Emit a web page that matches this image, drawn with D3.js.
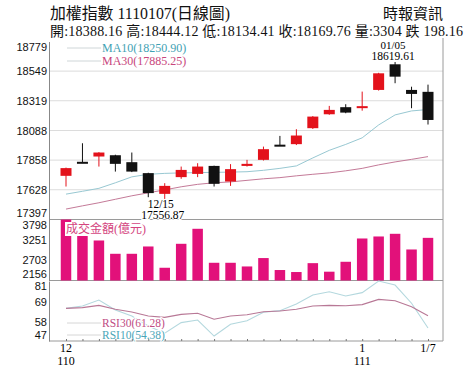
<!DOCTYPE html>
<html>
<head>
<meta charset="utf-8">
<script src="https://cdn.jsdelivr.net/npm/d3@7"></script>
<style>
  body { margin: 0; background: #fff; }
  svg { display: block; font-family: "Liberation Serif", "Noto Sans CJK TC", serif; }
  .tick text { font-size: 11px; fill: #111; }
</style>
</head>
<body>
<div id="chart"></div>
<script>
// ===== data =====
const dates = ["12/07","12/08","12/09","12/10","12/13","12/14","12/15","12/16","12/17","12/20","12/21","12/22",
  "12/23","12/24","12/27","12/28","12/29","12/30","01/03","01/04","01/05","01/06","01/07"];
const openVals  = [17736,17845,17886,17896,17842,17757,17596,17726,17751,17813,17692,17813,17860,17978,17982,18106,18214,18269,18268,18403,18602,18403,18388.16];
const highVals  = [17800,17989,17920,17900,17917,17760,17679,17808,17834,17815,17827,17860,17963,18046,18098,18200,18279,18292,18390,18536,18619.61,18428,18444.12];
const lowVals   = [17653,17835,17808,17769,17765,17570,17556.87,17713,17726,17653,17658,17808,17855,17972,17975,18100,18210,18222,18242,18398,18455,18261,18134.41];
const closeVals = [17796,17840,17917,17829,17769,17602,17658,17782,17808,17674,17788,17829,17943,17974,18049,18196,18248,18227,18277,18532,18506,18372,18169.76];
const ma10 = [17594,17616,17639,17682,17728,17748,17755,17759,17761,17763,17765,17768,17779,17794,17813,17875,17934,17980,18031,18131,18209,18240,18250.90];
const ma30 = [17478,17503,17527,17554,17581,17604,17627,17651,17670,17682,17689,17701,17713,17722,17736,17748,17759,17775,17794,17821,17844,17864,17885.25];
const volume = [3798,3413,3233,2875,2875,3072,2499,3144,3548,2633,2633,2534,2760,2438,2384,2623,2393,2660,3287,3341,3413,2991,3304];
const rsi10 = [65.5,66.8,70.2,64.6,61.2,55.5,51.4,57.4,58.9,49.8,56.5,58.5,63.3,64.2,68.0,73.1,74.9,72.5,74.4,81.0,78.7,68.4,54.38];
const rsi30 = [65.5,65.9,67.2,65.0,63.4,61.2,60.4,62.1,62.7,59.3,61.2,61.9,63.6,64.0,65.0,66.8,67.2,67.0,67.6,70.6,69.8,66.4,61.28];

const priceTicks = [18779,18549,18319,18088,17858,17628,17397];
const volTicks = [3798,3251,2703,2156];
const rsiTicks = [81,69,58,47];
const monthLabels = [{i: 0, m: "12", y: "110"}, {i: 18, m: "1", y: "111"}, {i: 22, m: "1/7", y: ""}];

const title = "加權指數 1110107(日線圖)";
const source = "時報資訊";
const summary = "開:18388.16 高:18444.12 低:18134.41 收:18169.76 量:3304 跌 198.16";

// ===== layout =====
const width = 474, height = 380;
const left = 49, right = 443;
const priceTop = 41.5, priceBot = 219.5;
const volTop = 219.5, volBot = 280.5;
const rsiTop = 281, rsiBot = 341;

const RED = "#e3121b", BLACK = "#111", MAG = "#e2117a";
const MA10_C = "#98c8d2", MA30_C = "#c47a98";

const svg = d3.select("#chart").append("svg")
  .attr("width", width).attr("height", height);

const idx = d3.range(dates.length);
const x = d3.scalePoint().domain(idx).range([66, 428]);
const yP = d3.scaleLinear().domain([17397, 18779]).range([priceBot, priceTop]);
const yV = d3.scaleLinear().domain([2156, 3798]).range([volBot, volTop]).clamp(true);
const yR = d3.scaleLinear().domain([47, 81]).range([rsiBot, rsiTop]);

// ===== header =====
svg.append("text").attr("x", 50).attr("y", 19).attr("font-size", 16).attr("fill", "#111")
  .attr("textLength", 180).attr("lengthAdjust", "spacingAndGlyphs").text(title);
svg.append("text").attr("x", 443).attr("y", 19).attr("text-anchor", "end").attr("font-size", 15).attr("fill", "#111").text(source);
svg.append("text").attr("x", 50).attr("y", 36).attr("font-size", 14).attr("fill", "#111")
  .attr("textLength", 413).attr("lengthAdjust", "spacing").text(summary);

// ===== grid + frame =====
svg.append("g").selectAll("line")
  .data(priceTicks.slice(1, -1))
  .join("line")
  .attr("x1", left).attr("x2", right)
  .attr("y1", d => yP(d)).attr("y2", d => yP(d))
  .attr("stroke", "#dcdcdc");

[volTop, volBot, rsiBot].forEach(y => {
  svg.append("line").attr("x1", left).attr("x2", right).attr("y1", y).attr("y2", y).attr("stroke", "#9a9a9a");
});
svg.append("line").attr("x1", right).attr("x2", right).attr("y1", 38).attr("y2", rsiBot).attr("stroke", "#9a9a9a");

// ===== left axes =====
function leftAxis(scale, ticks, nudgeTop, nudgeBot) {
  const g = svg.append("g").attr("transform", `translate(${left},0)`)
    .call(d3.axisLeft(scale).tickValues(ticks).tickSize(0).tickPadding(2).tickFormat(d3.format("d")));
  g.select(".domain").attr("stroke", "#888");
  g.selectAll(".tick text")
    .attr("dy", (d, i) => i === 0 ? nudgeTop : (i === ticks.length - 1 ? nudgeBot : "0.32em"));
  return g;
}
leftAxis(yP, priceTicks, "0.85em", "-0.25em");
leftAxis(yV, volTicks, "0.85em", "-0.3em");
leftAxis(yR, rsiTicks, "0.75em", "-0.2em");

// ===== moving averages =====
const lineP = d3.line().x((d, i) => x(i)).y(d => yP(d));
svg.append("path").datum(ma30).attr("d", lineP).attr("fill", "none").attr("stroke", MA30_C).attr("stroke-width", 1);
svg.append("path").datum(ma10).attr("d", lineP).attr("fill", "none").attr("stroke", MA10_C).attr("stroke-width", 1);

// ===== candles =====
const bw = 11;
const candles = svg.append("g").selectAll("g")
  .data(idx)
  .join("g");
candles.append("line")
  .attr("x1", i => x(i)).attr("x2", i => x(i))
  .attr("y1", i => yP(highVals[i])).attr("y2", i => yP(lowVals[i]))
  .attr("stroke", i => closeVals[i] >= openVals[i] ? RED : BLACK)
  .attr("stroke-width", 1);
candles.append("rect")
  .attr("x", i => x(i) - bw / 2)
  .attr("width", bw)
  .attr("y", i => Math.min(yP(openVals[i]), yP(closeVals[i])))
  .attr("height", i => Math.max(2, Math.abs(yP(openVals[i]) - yP(closeVals[i]))))
  .attr("fill", i => closeVals[i] >= openVals[i] ? RED : BLACK);

// high / low callouts
const hi = d3.maxIndex(highVals), lo = d3.minIndex(lowVals);
svg.append("text").attr("x", x(hi) - 2).attr("y", yP(highVals[hi]) - 13.5).attr("text-anchor", "middle")
  .attr("font-size", 11).text(dates[hi]);
svg.append("text").attr("x", x(hi) - 2).attr("y", yP(highVals[hi]) - 2.5).attr("text-anchor", "middle")
  .attr("font-size", 11.5).text(highVals[hi].toFixed(2));
svg.append("text").attr("x", x(lo) - 4).attr("y", yP(lowVals[lo]) + 9).attr("text-anchor", "middle")
  .attr("font-size", 11.5).text(dates[lo]);
svg.append("text").attr("x", x(lo) - 2).attr("y", yP(lowVals[lo]) + 20).attr("text-anchor", "middle")
  .attr("font-size", 11.5).attr("stroke", "#fff").attr("stroke-width", 2).attr("paint-order", "stroke")
  .text(lowVals[lo].toFixed(2));

// MA legend
const maLegend = [{t: "MA10(18250.90)", c: "#3fa2b4", y: 48}, {t: "MA30(17885.25)", c: "#c8467c", y: 61}];
maLegend.forEach(d => {
  svg.append("line").attr("x1", 67).attr("x2", 101).attr("y1", d.y).attr("y2", d.y).attr("stroke", "#cfd6d8");
  svg.append("text").attr("x", 102).attr("y", d.y + 4).attr("font-size", 12).attr("fill", d.c).text(d.t);
});

// ===== volume bars =====
const vbw = 10.5;
svg.append("g").selectAll("rect")
  .data(volume)
  .join("rect")
  .attr("x", (d, i) => x(i) - vbw / 2)
  .attr("width", vbw)
  .attr("y", d => yV(d))
  .attr("height", d => volBot - yV(d))
  .attr("fill", MAG);

svg.append("rect").attr("x", 65).attr("y", 222).attr("width", 83).attr("height", 14).attr("fill", "#fff");
svg.append("text").attr("x", 66).attr("y", 233).attr("font-size", 12).attr("fill", "#d4447e").text("成交金額(億元)");

// ===== RSI =====
const lineR = d3.line().x((d, i) => x(i)).y(d => yR(d));
svg.append("path").datum(rsi10).attr("d", lineR).attr("fill", "none").attr("stroke", "#b4d8de").attr("stroke-width", 1.1);
svg.append("path").datum(rsi30).attr("d", lineR).attr("fill", "none").attr("stroke", "#b87896").attr("stroke-width", 1.1);

const rsiLegend = [{t: "RSI30(61.28)", c: "#c04c84", y: 323}, {t: "RSI10(54.38)", c: "#4aa6b8", y: 335}];
rsiLegend.forEach(d => {
  svg.append("line").attr("x1", 67).attr("x2", 101).attr("y1", d.y).attr("y2", d.y).attr("stroke", "#d6d6d6");
  svg.append("text").attr("x", 102).attr("y", d.y + 4).attr("font-size", 11.5).attr("fill", d.c)
    .attr("stroke", "#fff").attr("stroke-width", 2).attr("paint-order", "stroke").text(d.t);
});

// ===== bottom axis =====
const xAxis = svg.append("g").attr("transform", `translate(0,${rsiBot})`)
  .call(d3.axisBottom(x).tickSizeInner(-2).tickSizeOuter(0).tickFormat(""));
xAxis.select(".domain").remove();
xAxis.selectAll(".tick line").attr("stroke", "#777");

monthLabels.forEach(d => {
  svg.append("text").attr("x", x(d.i)).attr("y", 352).attr("text-anchor", "middle").attr("font-size", 12).text(d.m);
  if (d.y) svg.append("text").attr("x", x(d.i)).attr("y", 365).attr("text-anchor", "middle").attr("font-size", 12).text(d.y);
});
</script>
</body>
</html>
